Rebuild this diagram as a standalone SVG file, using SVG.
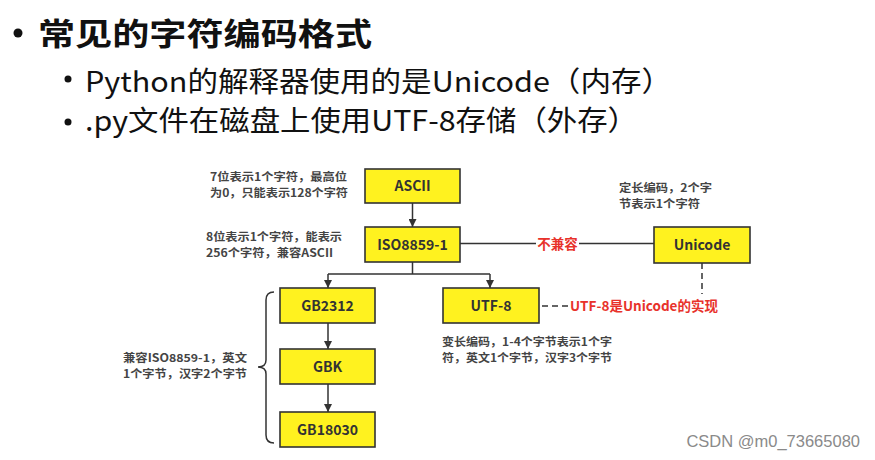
<svg xmlns="http://www.w3.org/2000/svg" width="875" height="460" viewBox="0 0 875 460">
<style>
.hdr{font-family:"Noto Sans CJK SC","Noto Sans",sans-serif;fill:#111}
.box{fill:#FFF21F;stroke:#333;stroke-width:1.6}
.lbl{font-family:"Noto Sans CJK SC","Open Sans",sans-serif;font-weight:bold;font-size:14px;fill:#333;text-anchor:middle}
.note{font-family:"Noto Sans CJK SC",sans-serif;font-weight:bold;font-size:11px;fill:#444}
.red{font-family:"Noto Sans CJK SC",sans-serif;font-weight:bold;font-size:13.5px;fill:#E8322B}
.ln{fill:none;stroke:#333;stroke-width:1.5}
.dash{fill:none;stroke:#333;stroke-width:1.5;stroke-dasharray:6 4}
</style>
<defs>
<marker id="ah" viewBox="0 0 10 10" refX="10" refY="5" markerWidth="8" markerHeight="8" markerUnits="userSpaceOnUse" orient="auto">
<path d="M0,0 L10,5 L0,10 z" fill="#333"/>
</marker>
</defs>
<rect width="875" height="460" fill="#fff"/>
<g id="header">
<circle cx="18" cy="33" r="4.5" fill="#111"/>
<text class="hdr" x="38" y="45" font-size="31" font-weight="bold" textLength="334" lengthAdjust="spacingAndGlyphs">常见的字符编码格式</text>
<circle cx="68" cy="79" r="3.5" fill="#111"/>
<text class="hdr" x="85" y="92" font-size="28" textLength="587" lengthAdjust="spacingAndGlyphs">Python的解释器使用的是Unicode（内存）</text>
<circle cx="68" cy="122" r="3.5" fill="#111"/>
<text class="hdr" x="85" y="131" font-size="28" textLength="553" lengthAdjust="spacingAndGlyphs">.py文件在磁盘上使用UTF-8存储（外存）</text>
</g>
<g id="connectors">
<path class="ln" d="M412.5,203 V227" marker-end="url(#ah)"/>
<path class="ln" d="M412.5,262 V274 M328,274 H490"/>
<path class="ln" d="M328,274 V288" marker-end="url(#ah)"/>
<path class="ln" d="M490,274 V288" marker-end="url(#ah)"/>
<path class="ln" d="M328,323 V349" marker-end="url(#ah)"/>
<path class="ln" d="M328,384 V412" marker-end="url(#ah)"/>
<path class="ln" d="M460,243.5 H536 M579,243.5 H654"/>
<path class="dash" d="M702,263 V294"/>
<path class="dash" d="M542,306 H568"/>
<path class="ln" d="M274,292 Q266,292 266,300 V360 Q266,367 258,367 Q266,367 266,374 V435 Q266,443 274,443"/>
</g>
<g id="ascii"><rect class="box" x="365" y="169" width="95" height="34"/><text class="lbl" x="412.5" y="191">ASCII</text></g>
<g id="iso"><rect class="box" x="365" y="227" width="95" height="35"/><text class="lbl" x="412.5" y="249.5">ISO8859-1</text></g>
<g id="gb2312"><rect class="box" x="280" y="288" width="95" height="35"/><text class="lbl" x="327.5" y="310.5">GB2312</text></g>
<g id="utf8"><rect class="box" x="443" y="288" width="96" height="35"/><text class="lbl" x="491" y="310.5">UTF-8</text></g>
<g id="gbk"><rect class="box" x="280" y="349" width="95" height="35"/><text class="lbl" x="327.5" y="371.5">GBK</text></g>
<g id="gb18030"><rect class="box" x="280" y="412" width="95" height="35"/><text class="lbl" x="327.5" y="434.5">GB18030</text></g>
<g id="unicode"><rect class="box" x="654" y="227" width="96" height="36"/><text class="lbl" x="702" y="250">Unicode</text></g>
<g id="notes">
<text class="note" x="210" y="181" textLength="137" lengthAdjust="spacingAndGlyphs">7位表示1个字符，最高位</text>
<text class="note" x="210" y="197" textLength="138" lengthAdjust="spacingAndGlyphs">为0，只能表示128个字符</text>
<text class="note" x="206" y="241" textLength="136" lengthAdjust="spacingAndGlyphs">8位表示1个字符，能表示</text>
<text class="note" x="206" y="257" textLength="127" lengthAdjust="spacingAndGlyphs">256个字符，兼容ASCII</text>
<text class="note" x="619" y="192" textLength="93" lengthAdjust="spacingAndGlyphs">定长编码，2个字</text>
<text class="note" x="619" y="208" textLength="81" lengthAdjust="spacingAndGlyphs">节表示1个字符</text>
<text class="note" x="123" y="362" textLength="124" lengthAdjust="spacingAndGlyphs">兼容ISO8859-1，英文</text>
<text class="note" x="123" y="378" textLength="124" lengthAdjust="spacingAndGlyphs">1个字节，汉字2个字节</text>
<text class="note" x="442" y="346" textLength="170" lengthAdjust="spacingAndGlyphs">变长编码，1-4个字节表示1个字</text>
<text class="note" x="442" y="362" textLength="170" lengthAdjust="spacingAndGlyphs">符，英文1个字节，汉字3个字节</text>
<text class="red" x="557.5" y="249" text-anchor="middle">不兼容</text>
<text class="red" x="570" y="311">UTF-8是Unicode的实现</text>
</g>
<text x="860" y="447" text-anchor="end" font-family="Liberation Sans,Arial,sans-serif" font-size="16.5" fill="#8a8a8a">CSDN @m0_73665080</text>
</svg>
